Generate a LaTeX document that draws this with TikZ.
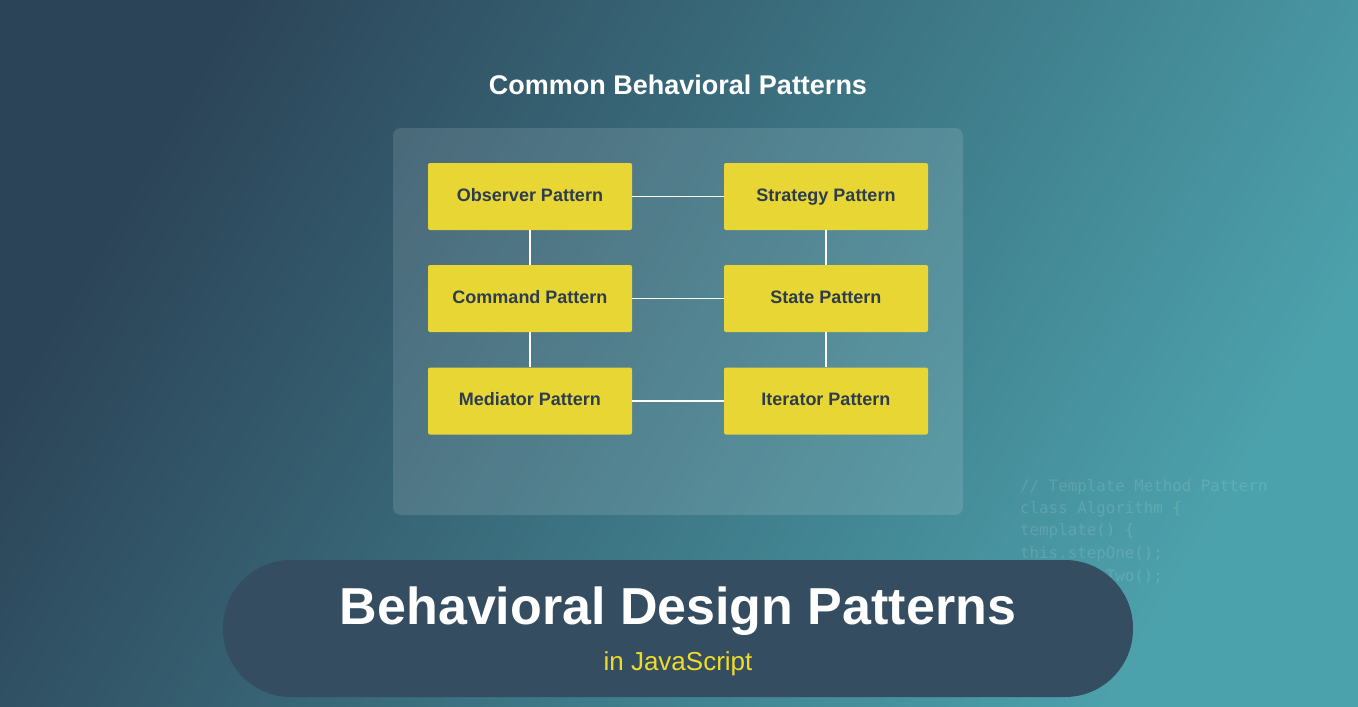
\documentclass[tikz,border=0pt]{standalone}
\usepackage{fontspec}
\setmainfont{Liberation Sans}
\setmonofont{DejaVu Sans Mono}
\definecolor{tl}{RGB}{44,68,88}
\definecolor{br}{RGB}{76,162,172}
\definecolor{boxy}{RGB}{232,214,52}
\definecolor{boxtxt}{RGB}{45,60,78}
\definecolor{pill}{RGB}{52,77,96}
\definecolor{jsy}{RGB}{240,220,40}
\begin{document}
\begin{tikzpicture}[x=1pt,y=-1pt,
  pbox/.style={fill=boxy,rounded corners=2pt,minimum width=204pt,minimum height=67pt,inner sep=0pt,text height=12.5pt,text depth=3.5pt,text=boxtxt,font=\fontsize{18}{21}\selectfont\bfseries},
  link/.style={draw=white,line width=1.6pt},
  code/.style={anchor=west,inner sep=0pt,text=white,text opacity=0.13,font=\ttfamily\fontsize{15.8}{18}\selectfont}]
\shade[left color=tl,right color=br,shading angle=60] (0,0) rectangle (1358,707);
\useasboundingbox (0,0) rectangle (1358,707);
\node[text=white,font=\fontsize{27}{32}\selectfont\bfseries] (title) at (678,85) {Common Behavioral Patterns};
\fill[white,opacity=0.12,rounded corners=8pt] (393,128) rectangle (963,515);
\node[pbox] (obs) at (530,196.5) {Observer Pattern};
\node[pbox] (str) at (826,196.5) {Strategy Pattern};
\node[pbox] (cmd) at (530,298.5) {Command Pattern};
\node[pbox] (sta) at (826,298.5) {State Pattern};
\node[pbox] (med) at (530,401) {Mediator Pattern};
\node[pbox] (ite) at (826,401) {Iterator Pattern};
\draw[link] (obs) -- (str);
\draw[link] (cmd) -- (sta);
\draw[link] (med) -- (ite);
\draw[link] (obs) -- (cmd);
\draw[link] (cmd) -- (med);
\draw[link] (str) -- (sta);
\draw[link] (sta) -- (ite);
\node[code] (c1) at (1020,487) {// Template Method Pattern};
\node[code] (c2) at (1020,509) {class Algorithm \{};
\node[code] (c3) at (1020,531) {template() \{};
\node[code] (c4) at (1020,554) {this.stepOne();};
\node[code] (c5) at (1020,577) {this.stepTwo();};
\fill[pill,rounded corners=68pt] (223,560) rectangle (1133,697);
\node[text=white,font=\fontsize{52}{60}\selectfont\bfseries] (main) at (678,611) {Behavioral Design Patterns};
\node[text=jsy,font=\fontsize{26}{30}\selectfont] (sub) at (678,664) {in JavaScript};
\end{tikzpicture}
\end{document}
